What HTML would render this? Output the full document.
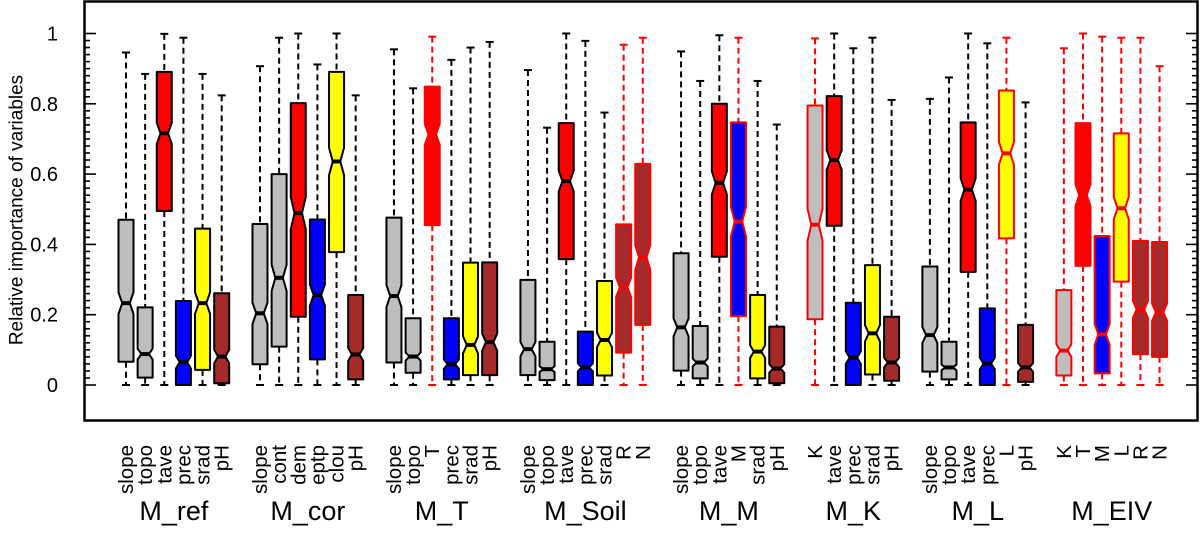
<!DOCTYPE html>
<html><head><meta charset="utf-8">
<style>
html,body{margin:0;padding:0;background:#fff;}
svg{display:block;font-family:"Liberation Sans",Arial,sans-serif;}
</style></head>
<body>
<svg id="chart" width="1200" height="533" viewBox="0 0 1200 533" xmlns="http://www.w3.org/2000/svg">
<rect x="84.5" y="1.5" width="1113" height="419" fill="none" stroke="#000" stroke-width="2.5"/>
<text transform="translate(16,210) rotate(-90)" text-anchor="middle" font-size="19" dy="0.35em">Relative importance of variables</text>
<g id="axes"></g>
<g id="boxes"></g>
<g id="labels"></g>
</svg>
<script>
const groups = ["M_ref","M_cor","M_T","M_Soil","M_M","M_K","M_L","M_EIV"];
const groupVars = [
 ["slope","topo","tave","prec","srad","pH"],
 ["slope","cont","dem","eptp","clou","pH"],
 ["slope","topo","T","prec","srad","pH"],
 ["slope","topo","tave","prec","srad","R","N"],
 ["slope","topo","tave","M","srad","pH"],
 ["K","tave","prec","srad","pH"],
 ["slope","topo","tave","prec","L","pH"],
 ["K","T","M","L","R","N"]
];
const upper = [0.946,0.885,0.999,0.988,0.885,0.824, 0.907,0.988,1.0,0.912,1.0,0.824, 0.955,0.844,0.991,0.925,0.960,0.976, 0.896,0.732,1.0,0.979,0.775,0.968,0.988, 0.949,0.865,0.995,0.988,0.865,0.741, 0.986,1.0,0.958,0.988,0.811, 0.814,0.875,1.0,0.972,0.988,0.804, 0.958,1.0,0.991,0.988,0.988,0.907];
const q3 = [0.470,0.221,0.891,0.239,0.445,0.261, 0.458,0.600,0.802,0.471,0.891,0.256, 0.476,0.190,0.849,0.190,0.348,0.349, 0.299,0.123,0.745,0.152,0.296,0.457,0.629, 0.375,0.168,0.800,0.747,0.256,0.166, 0.795,0.822,0.234,0.341,0.194, 0.337,0.123,0.747,0.218,0.838,0.171, 0.270,0.745,0.424,0.716,0.410,0.407];
const med = [0.233,0.088,0.716,0.065,0.233,0.081, 0.204,0.305,0.489,0.256,0.636,0.087, 0.253,0.081,0.713,0.059,0.114,0.122, 0.102,0.045,0.580,0.050,0.128,0.278,0.363, 0.164,0.064,0.575,0.465,0.095,0.047, 0.456,0.640,0.078,0.147,0.064, 0.142,0.050,0.556,0.061,0.659,0.050, 0.098,0.540,0.144,0.503,0.215,0.207];
const q1 = [0.066,0.021,0.495,0.0,0.043,0.005, 0.059,0.109,0.194,0.073,0.378,0.016, 0.064,0.035,0.455,0.016,0.028,0.028, 0.028,0.014,0.358,0.0,0.027,0.092,0.171, 0.041,0.019,0.365,0.196,0.019,0.005, 0.187,0.453,0.0,0.030,0.012, 0.038,0.016,0.322,0.0,0.417,0.009, 0.027,0.339,0.033,0.294,0.088,0.080];
const lower = new Array(48).fill(0);
const highlighted = [0,0,0,0,0,0, 0,0,0,0,0,0, 0,0,1,0,0,0, 0,0,0,0,0,1,1, 0,0,0,1,0,0, 1,0,0,0,0, 0,0,0,0,1,0, 1,1,1,1,1,1];
const yTicks = [0,0.2,0.4,0.6,0.8,1];
const yTickLabels = ["0","0.2","0.4","0.6","0.8","1"];

const fillFor = {slope:"#bebebe",topo:"#bebebe",cont:"#bebebe",K:"#bebebe",tave:"#ff0000",T:"#ff0000",dem:"#ff0000",prec:"#0000ff",eptp:"#0000ff",M:"#0000ff",srad:"#ffff00",clou:"#ffff00",L:"#ffff00",pH:"#a52a2a",R:"#a52a2a",N:"#a52a2a"};

const NS="http://www.w3.org/2000/svg";
function y(v){return 385 - v*351.5;}
function x(p){return 126 + (p-1)*19.14;}
function mk(tag,attrs,parent){const e=document.createElementNS(NS,tag);for(const k in attrs)e.setAttribute(k,attrs[k]);parent.appendChild(e);return e;}

const axes=document.getElementById('axes');
for(let i=0;i<=50;i++){
  const v=i*0.02, major=(i%10===0);
  const t1=mk('line',{x1:85,x2:85+(major?11:5),y1:y(v),y2:y(v),stroke:"#000","stroke-width":1.6},axes);
  
  
  const t2=mk('line',{x1:1197,x2:1197-(major?11:5),y1:y(v),y2:y(v),stroke:"#000","stroke-width":1.6},axes);
  
  
}
yTicks.forEach((v,i)=>{
  const t=mk('text',{x:58,y:y(v),"text-anchor":"end","font-size":20,dy:"0.35em"},axes);
  t.textContent=yTickLabels[i];
  
  
});

const boxes=document.getElementById('boxes');
const labels=document.getElementById('labels');
let idx=0,pos=1;
groups.forEach((g,gi)=>{
  const vars=groupVars[gi];
  const pStart=pos;
  vars.forEach(vn=>{
    const c=x(pos), w=7.5;
    const col=highlighted[idx]?"#ff0000":"#000";
    const fill=fillFor[vn];
    const bg=mk('g',{},boxes);
    
    
    const yU=y(upper[idx]),yL=y(lower[idx]),yQ3=y(q3[idx]),yQ1=y(q1[idx]),yM=y(med[idx]);
    mk('line',{x1:c,x2:c,y1:yU,y2:yQ3,stroke:col,"stroke-width":2,"stroke-dasharray":"6,4"},bg);
    mk('line',{x1:c,x2:c,y1:yQ1,y2:yL,stroke:col,"stroke-width":2,"stroke-dasharray":"6,4"},bg);
    mk('line',{x1:c-4,x2:c+4,y1:yU,y2:yU,stroke:col,"stroke-width":2},bg);
    mk('line',{x1:c-4,x2:c+4,y1:yL,y2:yL,stroke:col,"stroke-width":2},bg);
    const n=0.076*(yQ1-yQ3);
    const nt=Math.max(yM-n,yQ3), nb=Math.min(yM+n,yQ1);
    const pts=[[c-w,yQ3],[c+w,yQ3],[c+w,nt],[c+w/2,yM],[c+w,nb],[c+w,yQ1],[c-w,yQ1],[c-w,nb],[c-w/2,yM],[c-w,nt]];
    mk('polygon',{points:pts.map(p=>p.join(',')).join(' '),fill:fill,stroke:col,"stroke-width":2,"stroke-linejoin":"round"},bg);
    mk('line',{x1:c-w/2-1,x2:c+w/2+1,y1:yM,y2:yM,stroke:col,"stroke-width":4},bg);
    const t=mk('text',{transform:`translate(${c+7},445) rotate(-90)`,"text-anchor":"end","font-size":20.5},labels);
    t.textContent=vn;
    
    
    idx++;pos++;
  });
  const gc=(x(pStart)+x(pos-1))/2;
  const gt=mk('text',{x:gc,y:520,"text-anchor":"middle","font-size":27},labels);
  gt.textContent=g;
  
  
  pos++;
});
</script>
</body></html>
